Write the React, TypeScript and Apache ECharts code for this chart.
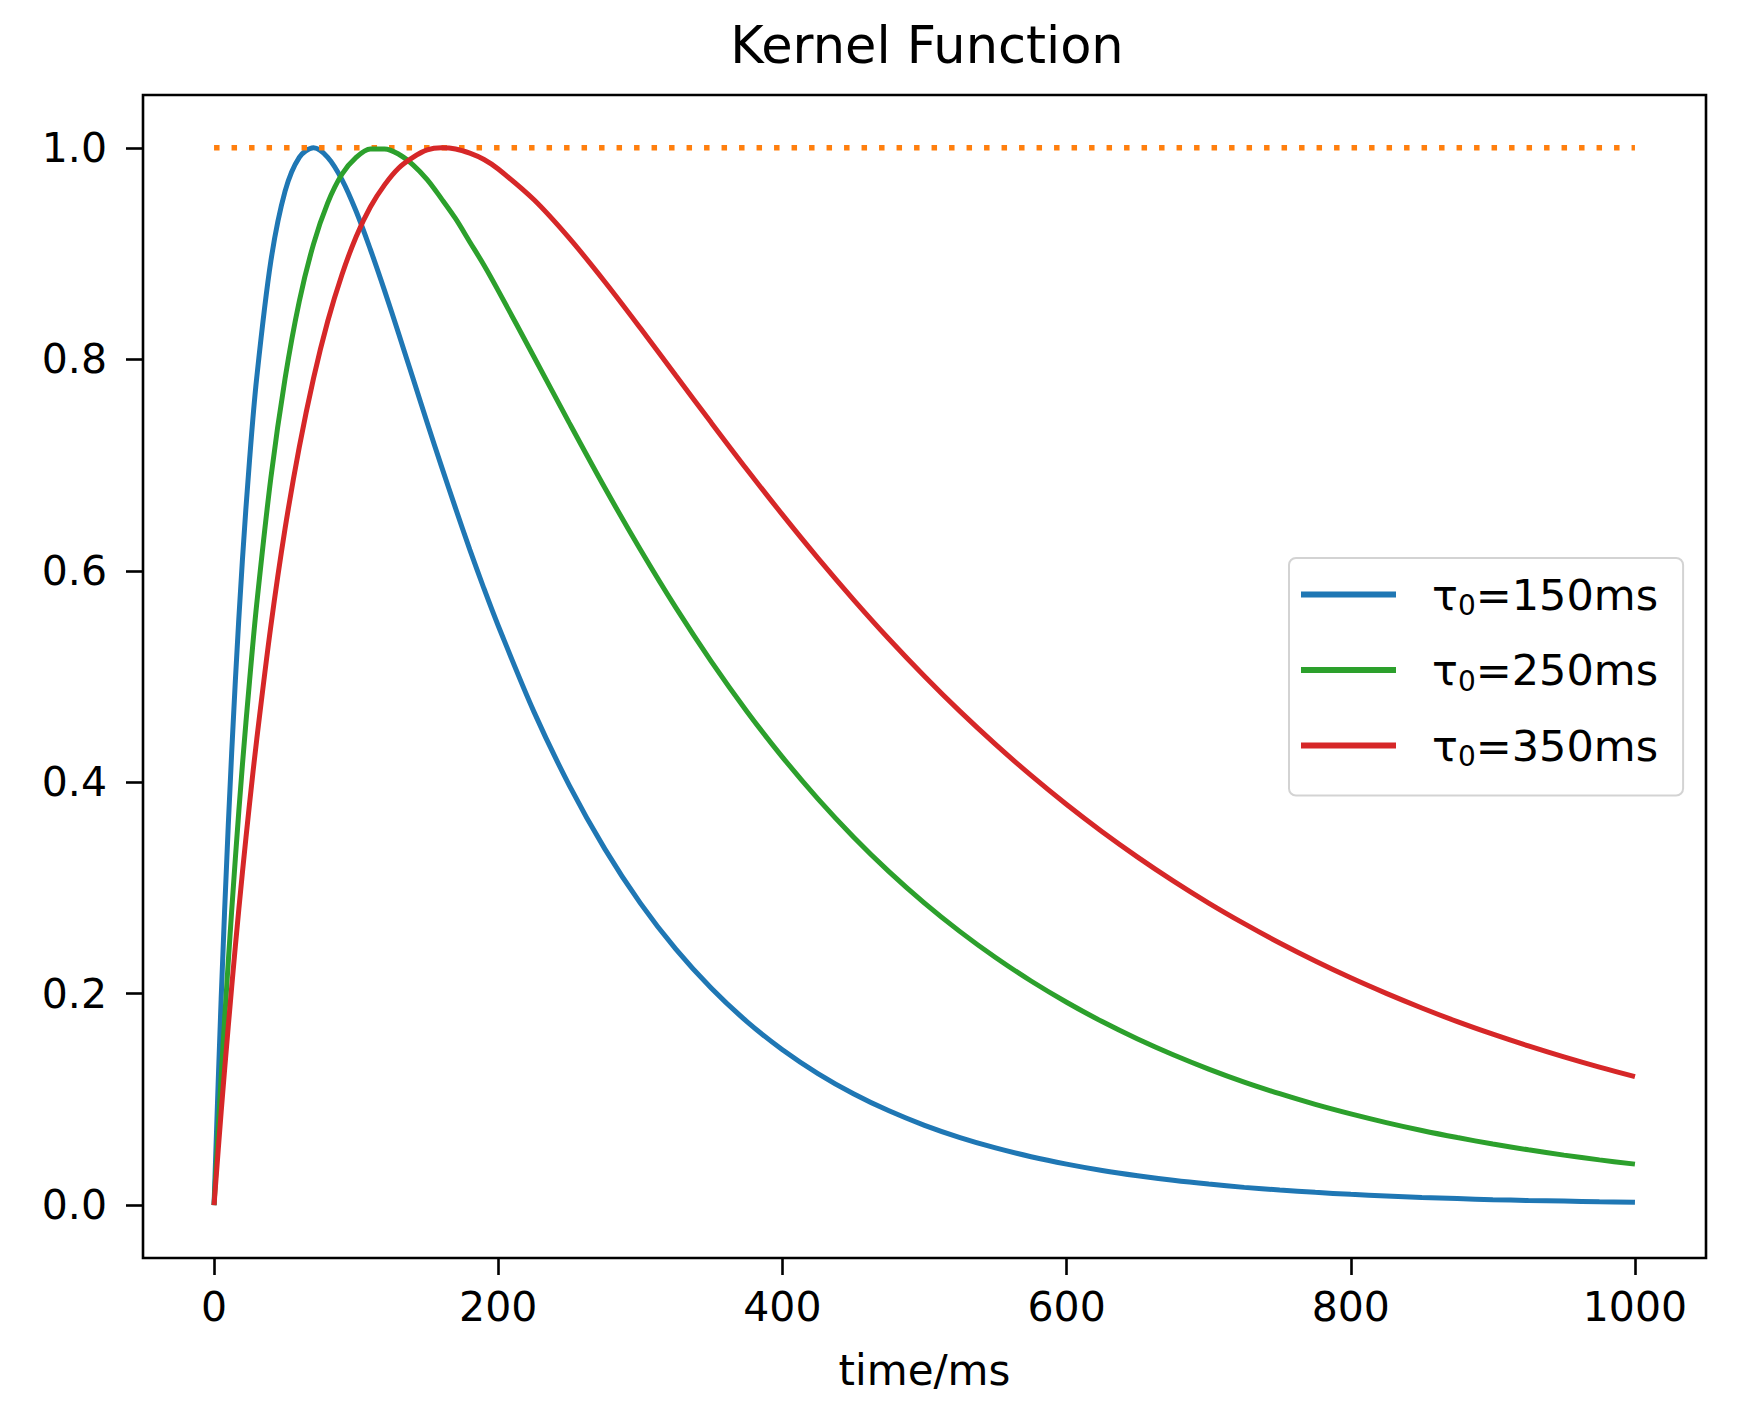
import React, { useEffect, useRef } from "react";
import * as echarts from "echarts";

const FONT = "DejaVu Sans";

const tauLabels = ["τ₀=150ms", "τ₀=250ms", "τ₀=350ms"];
const colors = ["#1f77b4", "#2ca02c", "#d62728"];
const refColor = "#ff7f0e";

const times = [
  0, 5, 10, 15, 20, 25, 30,
  40, 50, 60, 70, 80, 90, 100, 110, 120, 130, 140, 150, 160, 170, 180, 190, 200,
  225, 250, 275, 300, 325, 350, 375, 400,
  425, 450, 475, 500, 525, 550, 575, 600, 625, 650, 675, 700,
  725, 750, 775, 800, 825, 850, 875, 900, 925, 950, 975, 1000,
];

const kernel150 = [
  0, 0.195, 0.359, 0.496, 0.611, 0.705, 0.782,
  0.893, 0.959, 0.991, 1.0, 0.991, 0.97, 0.94, 0.904, 0.865, 0.824, 0.782, 0.74, 0.699, 0.659, 0.62, 0.583, 0.548,
  0.467, 0.3971, 0.337, 0.2857, 0.2421, 0.2051, 0.1736, 0.147,
  0.1245, 0.1054, 0.0892, 0.0755, 0.0639, 0.0541, 0.0458, 0.0388, 0.0328, 0.0278, 0.0235, 0.0199,
  0.0168, 0.0143, 0.0121, 0.0102, 0.0087, 0.0073, 0.0062, 0.0052, 0.0044, 0.0038, 0.0032, 0.0027,
];

const kernel250 = [
  0, 0.121, 0.23, 0.328, 0.417, 0.496, 0.568,
  0.688, 0.782, 0.855, 0.909, 0.948, 0.975, 0.991, 0.999, 0.999, 0.994, 0.984, 0.97, 0.952, 0.933, 0.911, 0.889, 0.865,
  0.8027, 0.7399, 0.6785, 0.6201, 0.5651, 0.5141, 0.467, 0.4238,
  0.3843, 0.3483, 0.3155, 0.2857, 0.2587, 0.2342, 0.212, 0.1919, 0.1736, 0.1571, 0.1422, 0.1287,
  0.1164, 0.1054, 0.0953, 0.0863, 0.0781, 0.0706, 0.0639, 0.0578, 0.0523, 0.0473, 0.0428, 0.0388,
];

const kernel350 = [
  0, 0.088, 0.169, 0.245, 0.315, 0.38, 0.44,
  0.548, 0.64, 0.717, 0.782, 0.836, 0.88, 0.916, 0.944, 0.965, 0.981, 0.991, 0.998, 1.0, 0.999, 0.995, 0.989, 0.98,
  0.9511, 0.9146, 0.8734, 0.8296, 0.7847, 0.7399, 0.6958, 0.6531,
  0.612, 0.5728, 0.5355, 0.5003, 0.467, 0.4358, 0.4064, 0.3789, 0.3532, 0.3292, 0.3067, 0.2857,
  0.2662, 0.2479, 0.2309, 0.215, 0.2003, 0.1865, 0.1736, 0.1617, 0.1506, 0.1402, 0.1305, 0.1215,
];

const refTimes = [0, 1000];
const refValues = [1, 1];

const xTicks = [0, 200, 400, 600, 800, 1000];
const yTicks = [0, 0.2, 0.4, 0.6, 0.8, 1.0];

const titleText = "Kernel Function";
const xName = "time/ms";

function zip(xs: number[], ys: number[]) {
  return xs.map((x, i) => [x, ys[i]]);
}

export default function App() {
  const ref = useRef<HTMLDivElement>(null);

  useEffect(() => {
    document.body.style.margin = "0";
    if (!ref.current) return;
    const chart = echarts.init(ref.current, undefined, { renderer: "svg" });

    const curves = [kernel150, kernel250, kernel350];
    const lineSeries = (i: number) => ({
      name: tauLabels[i],
      type: "line",
      data: zip(times, curves[i]),
      showSymbol: false,
      symbol: "none",
      smooth: 0.33,
      lineStyle: { color: colors[i], width: 5 },
      itemStyle: { color: colors[i] },
      z: 3 + i,
    });

    const tickStyle = {
      show: true,
      length: 17,
      lineStyle: { color: "#000", width: 2.6 },
    };

    chart.setOption({
      animation: false,
      backgroundColor: "#fff",
      title: {
        text: titleText,
        left: 922,
        top: 15,
        textAlign: "center",
        textStyle: { fontFamily: FONT, fontSize: 51, fontWeight: "normal", color: "#000" },
      },
      grid: {
        left: 143,
        right: 46,
        top: 95,
        bottom: 160,
        show: true,
        borderColor: "#000",
        borderWidth: 2.6,
        backgroundColor: "transparent",
        containLabel: false,
      },
      legend: {
        data: tauLabels,
        orient: "vertical",
        left: 1289,
        top: 558,
        padding: [15, 25, 25, 12],
        itemGap: 29,
        itemWidth: 95,
        itemHeight: 6,
        icon: "rect",
        backgroundColor: "rgba(255,255,255,0.85)",
        borderColor: "#d3d3d3",
        borderWidth: 2,
        borderRadius: 7,
        formatter: (name: string) => "{m|τ}{s|0}{m|" + name.slice(2) + "}",
        textStyle: {
          fontFamily: FONT,
          fontSize: 43,
          color: "#000",
          padding: [0, 0, 0, 31],
          rich: {
            m: { fontFamily: FONT, fontSize: 43, color: "#000", lineHeight: 50 },
            s: { fontFamily: FONT, fontSize: 28, color: "#000", lineHeight: 50, verticalAlign: "bottom" },
          },
        },
      },
      xAxis: {
        type: "value",
        min: -50,
        max: 1050,
        name: xName,
        nameLocation: "middle",
        nameGap: 91,
        nameTextStyle: { fontFamily: FONT, fontSize: 42, color: "#000" },
        axisLine: { show: false, onZero: false },
        splitLine: { show: false },
        axisTick: { ...tickStyle, customValues: xTicks },
        axisLabel: {
          customValues: xTicks,
          margin: 28,
          fontFamily: FONT,
          fontSize: 41,
          color: "#000",
          formatter: (v: number) => String(v),
        },
      },
      yAxis: {
        type: "value",
        min: -0.05,
        max: 1.05,
        axisLine: { show: false, onZero: false },
        splitLine: { show: false },
        axisTick: { ...tickStyle, customValues: yTicks },
        axisLabel: {
          customValues: yTicks,
          margin: 36,
          fontFamily: FONT,
          fontSize: 41,
          color: "#000",
          formatter: (v: number) => v.toFixed(1),
        },
      },
      series: [
        lineSeries(0),
        {
          name: "reference",
          type: "line",
          data: zip(refTimes, refValues),
          showSymbol: false,
          symbol: "none",
          lineStyle: { color: refColor, width: 5.5, type: [5.5, 12], cap: "butt" },
          z: 3,
        },
        lineSeries(1),
        lineSeries(2),
      ],
    });

    return () => chart.dispose();
  }, []);

  return <div ref={ref} style={{ width: 1752, height: 1418 }} />;
}
